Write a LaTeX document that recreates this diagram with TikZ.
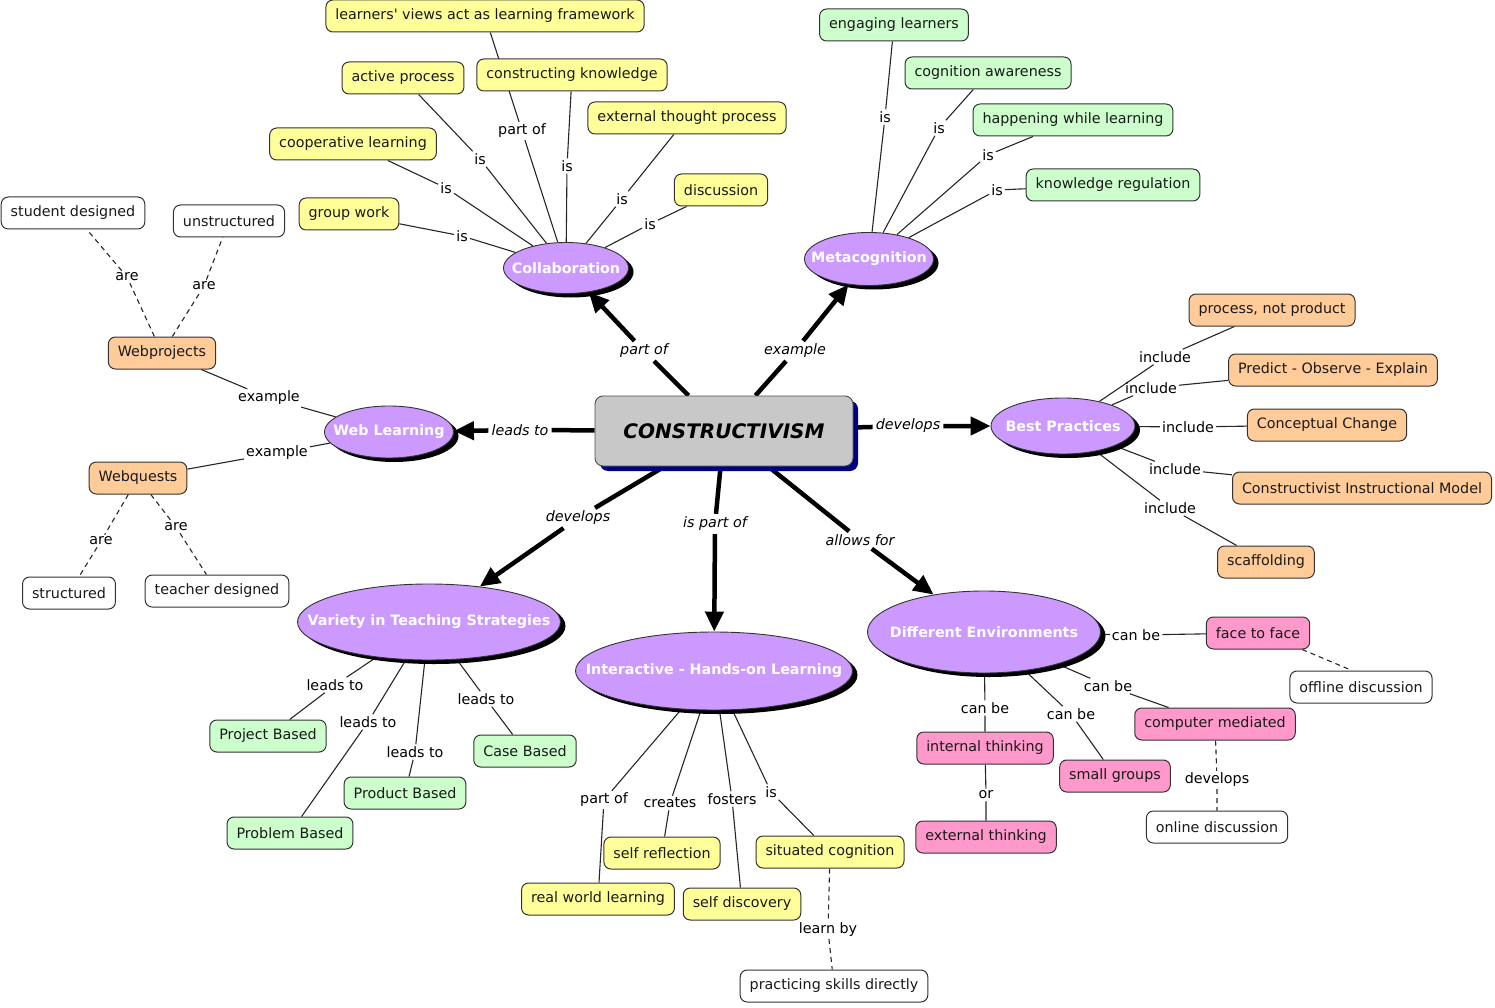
\documentclass[tikz,border=0pt]{standalone}
\usepackage{fontspec}
\setmainfont{DejaVu Sans}
\usetikzlibrary{arrows.meta, shapes.geometric, shadows}

\definecolor{boxyellow}{HTML}{FFFF99}
\definecolor{boxgreen}{HTML}{CCFFCC}
\definecolor{boxorange}{HTML}{FFCC99}
\definecolor{boxpink}{HTML}{FF99CC}
\definecolor{bubblepurple}{HTML}{CC99FF}
\definecolor{coregray}{HTML}{C8C8C8}
\definecolor{corenavy}{HTML}{000080}

\newcommand\mapfont{\fontsize{14.3}{17}\selectfont}

\pgfdeclarelayer{bg}
\pgfsetlayers{bg,main}

\tikzset{
  box/.style={draw=black!80, line width=1pt, rounded corners=7pt, minimum height=32pt,
    inner xsep=9.5pt, inner ysep=0pt, font=\mapfont, text=black!90},
  yellowbox/.style={box, fill=boxyellow},
  greenbox/.style={box, fill=boxgreen},
  orangebox/.style={box, fill=boxorange},
  pinkbox/.style={box, fill=boxpink},
  whitebox/.style={box, fill=white},
  bubble/.style={ellipse, draw=black!80, line width=0.9pt, fill=bubblepurple, inner sep=0pt,
    drop shadow={shadow xshift=5pt, shadow yshift=-4pt, opacity=1, fill=black}},
  bubbletext/.style={text=white, font=\mapfont\bfseries},
  corebox/.style={draw=black!70, line width=0.9pt, fill=coregray, rounded corners=8pt,
    minimum width=258pt, minimum height=70pt, font=\fontsize{20}{24}\selectfont\bfseries\itshape,
    drop shadow={shadow xshift=5pt, shadow yshift=-5pt, opacity=1, fill=corenavy}},
  lbl/.style={inner sep=2pt, font=\mapfont},
  biglbl/.style={inner sep=3pt, font=\mapfont\itshape},
  link/.style={line width=1.1pt, draw=black!85},
  dashlink/.style={link, dash pattern=on 5pt off 4pt},
  biglink/.style={line width=4.5pt, -{Triangle[length=20pt,width=18pt]}},
}

\begin{document}
\begin{tikzpicture}[x=1pt, y=-1pt]
\useasboundingbox (0,0) rectangle (1495,1008);

% centre
\node[corebox] (core) at (724,431) {CONSTRUCTIVISM};

% main concepts
\node[bubble, minimum width=125pt, minimum height=51pt, label={[bubbletext]center:Collaboration}] (collab) at (566,268) {};
\node[bubble, minimum width=129pt, minimum height=53pt, label={[bubbletext]center:Metacognition}] (meta) at (869,259) {};
\node[bubble, minimum width=129pt, minimum height=52pt, label={[bubbletext]center:Web Learning}] (weblearn) at (389,432) {};
\node[bubble, minimum width=144pt, minimum height=56pt, label={[bubbletext]center:Best Practices}] (bestprac) at (1063,426) {};
\node[bubble, minimum width=263pt, minimum height=76pt, label={[bubbletext]center:Variety in Teaching Strategies}] (variety) at (429,622) {};
\node[bubble, minimum width=277pt, minimum height=78pt, label={[bubbletext]center:Interactive - Hands-on Learning}] (handson) at (714,671) {};
\node[bubble, minimum width=233pt, minimum height=82pt, label={[bubbletext]center:Different Environments}] (environ) at (984,632) {};

% collaboration
\node[yellowbox] (views) at (485,16) {learners\textquotesingle{} views act as learning framework};
\node[yellowbox] (active) at (403,78) {active process};
\node[yellowbox] (constr) at (572,75) {constructing knowledge};
\node[yellowbox] (extern) at (687,118) {external thought process};
\node[yellowbox] (coop) at (353,144) {cooperative learning};
\node[yellowbox] (discus) at (721,190) {discussion};
\node[yellowbox] (group) at (349,214) {group work};

% metacognition
\node[greenbox] (engage) at (894,25) {engaging learners};
\node[greenbox] (cognaw) at (988,73) {cognition awareness};
\node[greenbox] (happen) at (1073,120) {happening while learning};
\node[greenbox] (knowreg) at (1113,185) {knowledge regulation};

% web learning
\node[orangebox] (webproj) at (162,353) {Webprojects};
\node[orangebox] (webquest) at (138,478) {Webquests};
\node[whitebox] (studdes) at (73,213) {student designed};
\node[whitebox] (unstruc) at (229,221) {unstructured};
\node[whitebox] (struc) at (69,593) {structured};
\node[whitebox] (teachdes) at (217,591) {teacher designed};

% best practices
\node[orangebox] (process) at (1272,310) {process, not product};
\node[orangebox] (poe) at (1333,370) {Predict - Observe - Explain};
\node[orangebox] (concept) at (1327,425) {Conceptual Change};
\node[orangebox] (cim) at (1362,488) {Constructivist Instructional Model};
\node[orangebox] (scaff) at (1266,562) {scaffolding};

% teaching strategies
\node[greenbox] (project) at (268,736) {Project Based};
\node[greenbox] (casebased) at (525,751) {Case Based};
\node[greenbox] (product) at (405,793) {Product Based};
\node[greenbox] (problem) at (290,833) {Problem Based};

% hands-on
\node[yellowbox] (selfref) at (662,853) {self reflection};
\node[yellowbox] (realworld) at (598,899) {real world learning};
\node[yellowbox] (selfdisc) at (742,904) {self discovery};
\node[yellowbox] (situated) at (830,852) {situated cognition};
\node[whitebox] (practice) at (834,986) {practicing skills directly};

% environments
\node[pinkbox] (face) at (1258,633) {face to face};
\node[pinkbox] (internal) at (985,748) {internal thinking};
\node[pinkbox] (external) at (986,837) {external thinking};
\node[pinkbox] (small) at (1115,776) {small groups};
\node[pinkbox] (compmed) at (1215,724) {computer mediated};
\node[whitebox] (offline) at (1361,687) {offline discussion};
\node[whitebox] (online) at (1217,827) {online discussion};

% link labels
\node[biglbl] (lcpart) at (644,351) {part of};
\node[biglbl] (lcex) at (795,351) {example};
\node[biglbl] (lclead) at (520,430) {leads to};
\node[biglbl] (lcdev) at (908,426) {develops};
\node[biglbl] (lcdev2) at (578,518) {develops};
\node[biglbl] (lcispart) at (715,524) {is part of};
\node[biglbl] (lcallow) at (860,540) {allows for};

\node[lbl] (lpart) at (522,131) {part of};
\node[lbl] (lis1) at (567,166) {is};
\node[lbl] (lis2) at (480,159) {is};
\node[lbl] (lis3) at (446,188) {is};
\node[lbl] (lis4) at (462,236) {is};
\node[lbl] (lis5) at (622,199) {is};
\node[lbl] (lis6) at (650,224) {is};

\node[lbl] (lmis1) at (885,117) {is};
\node[lbl] (lmis2) at (939,128) {is};
\node[lbl] (lmis3) at (988,155) {is};
\node[lbl] (lmis4) at (997,190) {is};

\node[lbl] (lex1) at (269,398) {example};
\node[lbl] (lex2) at (277,453) {example};
\node[lbl] (lare1) at (127,277) {are};
\node[lbl] (lare2) at (204,286) {are};
\node[lbl] (lare3) at (101,541) {are};
\node[lbl] (lare4) at (176,527) {are};

\node[lbl] (linc1) at (1165,357) {include};
\node[lbl] (linc2) at (1151,388) {include};
\node[lbl] (linc3) at (1188,427) {include};
\node[lbl] (linc4) at (1175,469) {include};
\node[lbl] (linc5) at (1170,508) {include};

\node[lbl] (llt1) at (335,685) {leads to};
\node[lbl] (llt2) at (368,722) {leads to};
\node[lbl] (llt3) at (415,752) {leads to};
\node[lbl] (llt4) at (486,699) {leads to};

\node[lbl] (lpo) at (604,800) {part of};
\node[lbl] (lcr) at (670,803) {creates};
\node[lbl] (lfo) at (732,799) {fosters};
\node[lbl] (lhis) at (771,792) {is};
\node[lbl] (llb) at (828,930) {learn by};

\node[lbl] (lcb1) at (1136,635) {can be};
\node[lbl] (lcb2) at (985,708) {can be};
\node[lbl] (lcb3) at (1071,714) {can be};
\node[lbl] (lcb4) at (1108,686) {can be};
\node[lbl] (ldev) at (1217,780) {develops};
\node[lbl] (lor) at (986,795) {or};

\begin{pgfonlayer}{bg}
% from the centre
\draw[biglink] (core) -- (lcpart) -- (collab);
\draw[biglink] (core) -- (lcex) -- (meta);
\draw[biglink] (core) -- (lclead) -- (weblearn);
\draw[biglink] (core) -- (lcdev) -- (bestprac);
\draw[biglink] (core) -- (lcdev2) -- (variety);
\draw[biglink] (core) -- (lcispart) -- (handson);
\draw[biglink] (core) -- (lcallow) -- (environ);

% collaboration
\draw[link] (views) -- (lpart) -- (collab);
\draw[link] (constr) -- (lis1) -- (collab);
\draw[link] (active) -- (lis2) -- (collab);
\draw[link] (coop) -- (lis3) -- (collab);
\draw[link] (group) -- (lis4) -- (collab);
\draw[link] (extern) -- (lis5) -- (collab);
\draw[link] (discus) -- (lis6) -- (collab);

% metacognition
\draw[link] (engage) -- (lmis1) -- (meta);
\draw[link] (cognaw) -- (lmis2) -- (meta);
\draw[link] (happen) -- (lmis3) -- (meta);
\draw[link] (knowreg) -- (lmis4) -- (meta);

% web learning
\draw[link] (weblearn) -- (lex1) -- (webproj);
\draw[link] (weblearn) -- (lex2) -- (webquest);
\draw[dashlink] (webproj) -- (lare1) -- (studdes);
\draw[dashlink] (webproj) -- (lare2) -- (unstruc);
\draw[dashlink] (webquest) -- (lare3) -- (struc);
\draw[dashlink] (webquest) -- (lare4) -- (teachdes);

% best practices
\draw[link] (bestprac) -- (linc1) -- (process);
\draw[link] (bestprac) -- (linc2) -- (poe);
\draw[link] (bestprac) -- (linc3) -- (concept);
\draw[link] (bestprac) -- (linc4) -- (cim);
\draw[link] (bestprac) -- (linc5) -- (scaff);

% teaching strategies
\draw[link] (variety) -- (llt1) -- (project);
\draw[link] (variety) -- (llt2) -- (problem);
\draw[link] (variety) -- (llt3) -- (product);
\draw[link] (variety) -- (llt4) -- (casebased);

% hands-on
\draw[link] (handson) -- (lpo) -- (realworld);
\draw[link] (handson) -- (lcr) -- (selfref);
\draw[link] (handson) -- (lfo) -- (selfdisc);
\draw[link] (handson) -- (lhis) -- (situated);
\draw[dashlink] (situated) -- (llb) -- (practice);

% environments
\draw[link] (environ) -- (lcb1) -- (face);
\draw[link] (environ) -- (lcb2) -- (internal);
\draw[link] (environ) -- (lcb3) -- (small);
\draw[link] (environ) -- (lcb4) -- (compmed);
\draw[dashlink] ([xshift=-8pt]face.south east) -- ([xshift=-9pt]offline.north);
\draw[dashlink] (compmed) -- (ldev) -- (online);
\draw[link] (internal) -- (lor) -- (external);
\end{pgfonlayer}
\end{tikzpicture}
\end{document}
